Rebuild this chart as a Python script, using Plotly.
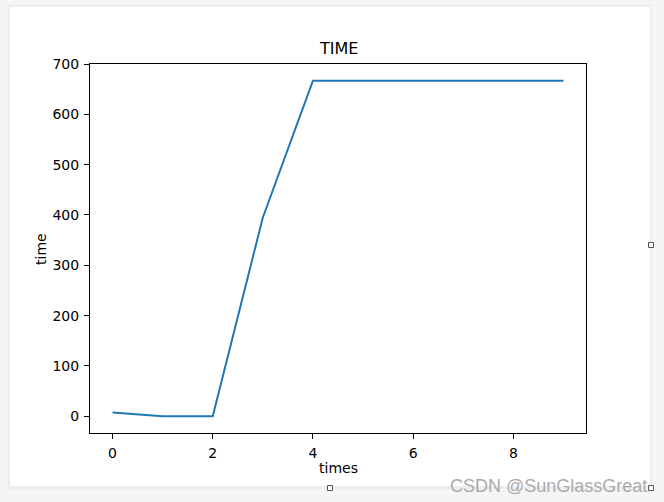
import plotly.graph_objects as go

# data
times = [0, 1, 2, 3, 4, 5, 6, 7, 8, 9]
time_values = [7.5, 0, 0, 395, 666.7, 666.7, 666.7, 666.7, 666.7, 666.7]
x_ticks = [0, 2, 4, 6, 8]
y_ticks = [0, 100, 200, 300, 400, 500, 600, 700]

W, H = 664, 502
L, R, T, B = 90, 586, 64, 433
pw, ph = R - L, B - T

def px(x):
    return (x - L) / pw

def py(y):
    return (B - y) / ph

fig = go.Figure()
fig.add_trace(go.Scatter(x=times, y=time_values, mode="lines",
                         line=dict(color="#1f77b4", width=2), showlegend=False))

font = dict(family="DejaVu Sans", size=14, color="black")

axis_common = dict(showgrid=False, zeroline=False, showline=True, linecolor="black",
                   linewidth=1, mirror=True, ticks="outside", ticklen=5,
                   tickcolor="black", tickwidth=1, tickfont=font)

fig.update_xaxes(range=[-0.45, 9.45], tickvals=x_ticks, ticklabelstandoff=2, **axis_common)
fig.update_yaxes(range=[-33.3, 700], tickvals=y_ticks, ticklabelstandoff=2, **axis_common)

shapes = []
# card shadow + card
shapes.append(dict(type="rect", xref="paper", yref="paper",
                   x0=px(8), x1=px(652), y0=py(4), y1=py(489),
                   fillcolor="#eeeeee", line=dict(width=0), layer="below"))
shapes.append(dict(type="rect", xref="paper", yref="paper",
                   x0=px(10), x1=px(650), y0=py(7), y1=py(486),
                   fillcolor="white", line=dict(width=0), layer="below"))
# small handle squares
for cx, cy in [(330, 488), (651, 245), (651, 488)]:
    shapes.append(dict(type="rect", xref="paper", yref="paper",
                       x0=px(cx - 2.5), x1=px(cx + 2.5), y0=py(cy - 2.5), y1=py(cy + 2.5),
                       fillcolor="white", line=dict(color="#555555", width=1)))

annotations = [
    dict(text="TIME", xref="paper", yref="paper", x=0.5, y=py(49), xanchor="center",
         yanchor="middle", showarrow=False, font=dict(family="DejaVu Sans", size=16, color="black")),
    dict(text="times", xref="paper", yref="paper", x=0.5, y=py(468), xanchor="center",
         yanchor="middle", showarrow=False, font=font),
    dict(text="time", xref="paper", yref="paper", x=px(41), y=py(249), xanchor="center",
         yanchor="middle", textangle=-90, showarrow=False, font=font),
    dict(text="CSDN @SunGlassGreat", xref="paper", yref="paper", x=px(649), y=py(486),
         xanchor="right", yanchor="middle", showarrow=False,
         font=dict(family="Liberation Sans", size=18, color="#aaaaaa")),
]

fig.update_layout(width=W, height=H, margin=dict(l=L, r=W - R, t=T, b=H - B),
                  paper_bgcolor="#f5f5f5", plot_bgcolor="white",
                  shapes=shapes, annotations=annotations)

fig.write_html("out.html", config={"displayModeBar": False},
               post_script="document.body.style.margin='0';document.body.style.overflow='hidden';")
